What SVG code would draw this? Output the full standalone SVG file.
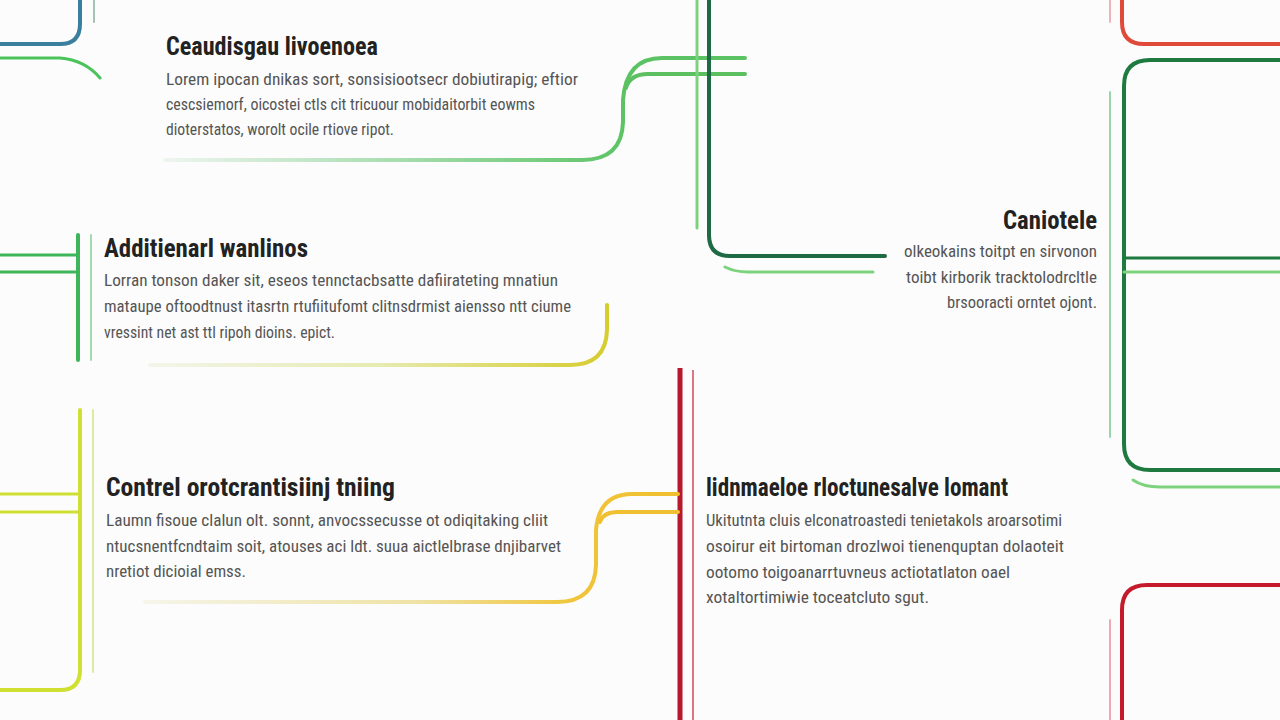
<svg xmlns="http://www.w3.org/2000/svg" width="1280" height="720" viewBox="0 0 1280 720">
<defs>
<linearGradient id="gGreen" x1="165" y1="0" x2="625" y2="0" gradientUnits="userSpaceOnUse">
<stop offset="0" stop-color="#eef5ef"/><stop offset="0.5" stop-color="#a8ddb0"/><stop offset="1" stop-color="#5cc364"/>
</linearGradient>
<linearGradient id="gYel1" x1="150" y1="0" x2="610" y2="0" gradientUnits="userSpaceOnUse">
<stop offset="0" stop-color="#f3f5ea"/><stop offset="0.5" stop-color="#e6ebb0"/><stop offset="1" stop-color="#d6cc2c"/>
</linearGradient>
<linearGradient id="gYel2" x1="145" y1="0" x2="680" y2="0" gradientUnits="userSpaceOnUse">
<stop offset="0" stop-color="#f5f5ea"/><stop offset="0.5" stop-color="#efe3a8"/><stop offset="0.8" stop-color="#f0c53a"/><stop offset="1" stop-color="#f0bf30"/>
</linearGradient>
</defs>
<style>
.c{fill:none;stroke-linecap:round;stroke-linejoin:round}
.t{font-family:"Liberation Sans Narrow","Roboto Condensed","Liberation Sans",Arial,sans-serif;font-size:25px;fill:#222;font-weight:bold}
.b{font-family:"Liberation Sans Narrow","Roboto Condensed","Liberation Sans",Arial,sans-serif;font-size:17px;fill:#555}
.r{text-anchor:end}
</style>
<rect width="1280" height="720" fill="#fcfcfc"/>
<g id="connectors">
<path class="c" d="M0,44 H60 Q80,44 80,24 V0" stroke="#3b7f9f" stroke-width="4"/>
<path class="c" d="M94,0 V22" stroke="#a3c4b4" stroke-width="2"/>
<path class="c" d="M0,58 H60 Q85,60 100,78" stroke="#4cc35a" stroke-width="3"/>
<path class="c" d="M165,160 H582 Q622,160 623,122 V100 Q626,58 662,58 H745" stroke="url(#gGreen)" stroke-width="4"/>
<path class="c" d="M626,88 Q630,74 648,74 H745" stroke="#5cc060" stroke-width="4"/>
<path class="c" d="M697,0 V228" stroke="#7dd37d" stroke-width="3"/>
<path class="c" d="M709,0 V235 Q709,256 730,256 H885" stroke="#1d6a45" stroke-width="4"/>
<path class="c" d="M725,267 Q735,272 748,272 H873" stroke="#7dd37d" stroke-width="3"/>
<path class="c" d="M1280,60 H1150 Q1124,60 1124,86 V444 Q1124,470 1150,470 H1280" stroke="#1f7a40" stroke-width="4"/>
<path class="c" d="M1124,258 H1280" stroke="#1f7a40" stroke-width="3"/>
<path class="c" d="M1124,272 H1280" stroke="#7dd37d" stroke-width="3"/>
<path class="c" d="M1133,480 Q1143,487 1160,487 H1280" stroke="#7dd37d" stroke-width="3"/>
<path class="c" d="M1110,92 V437" stroke="#9ad4a9" stroke-width="2"/>
<path class="c" d="M1122,0 V22 Q1122,44 1144,44 H1280" stroke="#e04a3a" stroke-width="4"/>
<path class="c" d="M1110,0 V22" stroke="#f0b4b4" stroke-width="2"/>
<path class="c" d="M1122,720 V610 Q1122,585 1147,585 H1280" stroke="#c41a2c" stroke-width="4"/>
<path class="c" d="M1110,620 V720" stroke="#eeaab4" stroke-width="2"/>
<path d="M680,368 V720" stroke="#b8182c" stroke-width="5" fill="none"/>
<path d="M693,370 V720" stroke="#e07484" stroke-width="2" fill="none"/>
<path class="c" d="M145,602 H557 Q595,602 596,565 V530 Q599,494 632,494 H678" stroke="url(#gYel2)" stroke-width="4"/>
<path class="c" d="M600,522 Q603,512 618,512 H678" stroke="#f0c030" stroke-width="4"/>
<path class="c" d="M150,365 H570 Q606,365 607,330 V305" stroke="url(#gYel1)" stroke-width="4"/>
<path class="c" d="M78,235 V360" stroke="#3fb559" stroke-width="4"/>
<path class="c" d="M91,235 V360" stroke="#a3dbb0" stroke-width="2"/>
<path class="c" d="M0,255 H78 M0,272 H78" stroke="#3fb559" stroke-width="3"/>
<path class="c" d="M80,410 V670 Q80,690 60,690 H0" stroke="#cfe033" stroke-width="4"/>
<path class="c" d="M93,410 V672" stroke="#dceaa2" stroke-width="2"/>
<path class="c" d="M0,494 H80 M0,512 H80" stroke="#cfe033" stroke-width="3"/>
</g>
<g id="node1">
<text class="t" x="166" y="55" textLength="212" lengthAdjust="spacingAndGlyphs">Ceaudisgau livoenoea</text>
<text class="b" x="166" y="85" textLength="412" lengthAdjust="spacingAndGlyphs">Lorem ipocan dnikas sort, sonsisiootsecr dobiutirapig; eftior</text>
<text class="b" x="166" y="110" textLength="369" lengthAdjust="spacingAndGlyphs">cescsiemorf, oicostei ctls cit tricuour mobidaitorbit eowms</text>
<text class="b" x="166" y="135" textLength="228" lengthAdjust="spacingAndGlyphs">dioterstatos, worolt ocile rtiove ripot.</text>
</g>
<g id="node2">
<text class="t" x="104" y="257" textLength="204" lengthAdjust="spacingAndGlyphs">Additienarl wanlinos</text>
<text class="b" x="104" y="286" textLength="454" lengthAdjust="spacingAndGlyphs">Lorran tonson daker sit, eseos tennctacbsatte dafiirateting mnatiun</text>
<text class="b" x="104" y="312" textLength="467" lengthAdjust="spacingAndGlyphs">mataupe oftoodtnust itasrtn rtufiitufomt clitnsdrmist aiensso ntt ciume</text>
<text class="b" x="104" y="338" textLength="231" lengthAdjust="spacingAndGlyphs">vressint net ast ttl ripoh dioins. epict.</text>
</g>
<g id="node3">
<text class="t" x="106" y="496" textLength="289" lengthAdjust="spacingAndGlyphs">Contrel orotcrantisiinj tniing</text>
<text class="b" x="106" y="526" textLength="442" lengthAdjust="spacingAndGlyphs">Laumn fisoue clalun olt. sonnt, anvocssecusse ot odiqitaking cliit</text>
<text class="b" x="106" y="552" textLength="455" lengthAdjust="spacingAndGlyphs">ntucsnentfcndtaim soit, atouses aci ldt. suua aictlelbrase dnjibarvet</text>
<text class="b" x="106" y="577" textLength="140" lengthAdjust="spacingAndGlyphs">nretiot dicioial emss.</text>
</g>
<g id="node4">
<text class="t" x="706" y="496" textLength="302" lengthAdjust="spacingAndGlyphs">lidnmaeloe rloctunesalve lomant</text>
<text class="b" x="706" y="526" textLength="356" lengthAdjust="spacingAndGlyphs">Ukitutnta cluis elconatroastedi tenietakols aroarsotimi</text>
<text class="b" x="706" y="552" textLength="358" lengthAdjust="spacingAndGlyphs">osoirur eit birtoman drozlwoi tienenquptan dolaoteit</text>
<text class="b" x="706" y="578" textLength="304" lengthAdjust="spacingAndGlyphs">ootomo toigoanarrtuvneus actiotatlaton oael</text>
<text class="b" x="706" y="603" textLength="223" lengthAdjust="spacingAndGlyphs">xotaltortimiwie toceatcluto sgut.</text>
</g>
<g id="node5">
<text class="t r" x="1097" y="229" textLength="94" lengthAdjust="spacingAndGlyphs">Caniotele</text>
<text class="b r" x="1097" y="257" textLength="193" lengthAdjust="spacingAndGlyphs">olkeokains toitpt en sirvonon</text>
<text class="b r" x="1097" y="283" textLength="191" lengthAdjust="spacingAndGlyphs">toibt kirborik tracktolodrcltle</text>
<text class="b r" x="1097" y="308" textLength="150" lengthAdjust="spacingAndGlyphs">brsooracti orntet ojont.</text>
</g>
</svg>
